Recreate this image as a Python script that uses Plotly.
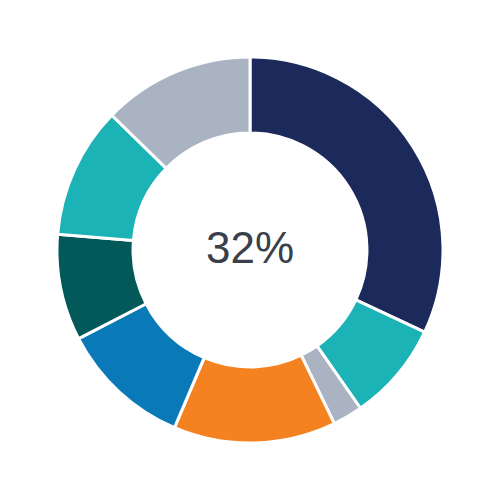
import plotly.graph_objects as go

labels = ["A", "B", "C", "D", "E", "F", "G", "H"]
values = [32, 8.3, 2.5, 13.6, 11.0, 8.9, 11.0, 12.7]
colors = ["#1c2a5b", "#1bb3b5", "#a9b3c1", "#f58220", "#0a79b8", "#03585a", "#1bb3b5", "#a9b3c1"]
center_text = "32%"

fig = go.Figure(go.Pie(
    labels=labels,
    values=values,
    hole=0.606,
    sort=False,
    direction="clockwise",
    rotation=0,
    textinfo="none",
    marker=dict(colors=colors, line=dict(color="white", width=3)),
    showlegend=False,
))
fig.add_annotation(text=center_text, x=0.5, y=0.5, xref="paper", yref="paper", yshift=3,
                   showarrow=False, font=dict(family="Liberation Sans, Arial", size=44, color="#3a3f4b"))
fig.update_layout(width=500, height=500, margin=dict(l=49, r=65, t=49, b=65),
                  paper_bgcolor="white", plot_bgcolor="white")
fig.write_html("out.html")
